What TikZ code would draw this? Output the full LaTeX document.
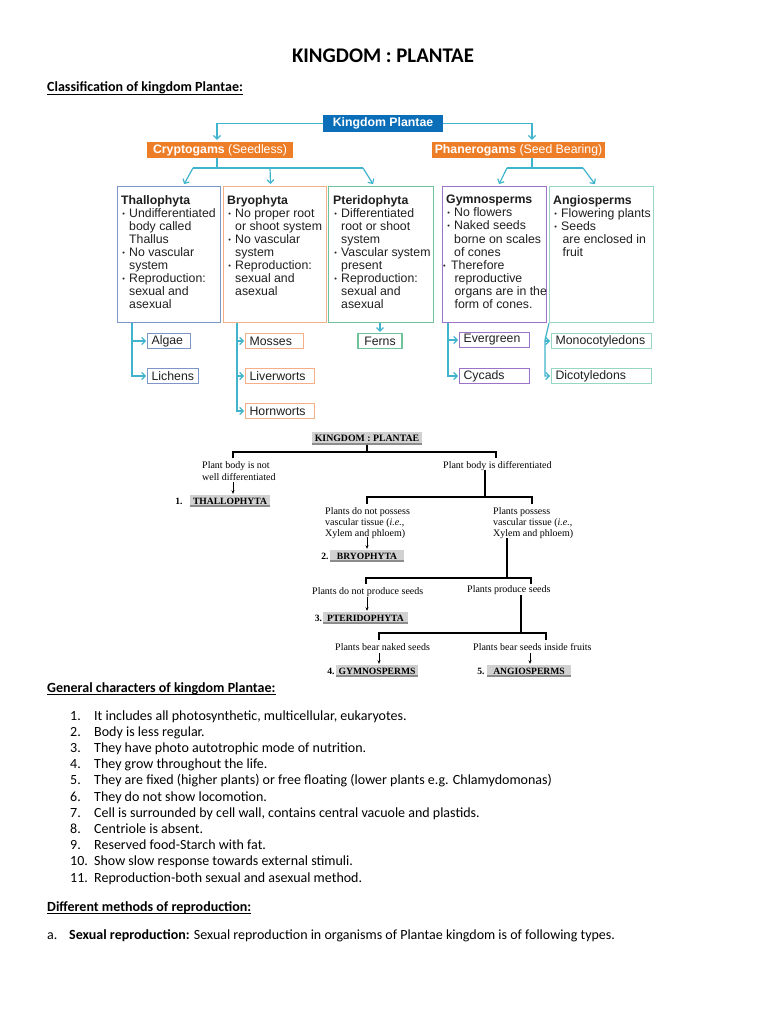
\documentclass[tikz,border=0pt]{standalone}
\usepackage{fontspec}
\usepackage{graphicx}
\setmainfont{Carlito}
\newfontfamily\ari{Liberation Sans}
\newfontfamily\tnr{Liberation Serif}
\usetikzlibrary{arrows.meta,calc}
\definecolor{kblue}{RGB}{10,110,185}
\definecolor{korange}{RGB}{238,125,40}
\definecolor{tealc}{RGB}{65,180,205}
\definecolor{cthal}{RGB}{125,150,200}
\definecolor{cbryo}{RGB}{245,175,135}
\definecolor{cpter}{RGB}{110,195,155}
\definecolor{cgymn}{RGB}{155,115,200}
\definecolor{cangi}{RGB}{150,215,195}
\newcommand\bu{\makebox[8pt][l]{\hspace{1.2pt}\raisebox{1pt}{\scalebox{0.6}{•}}}}
\newcommand\hbu{\makebox[5pt][l]{\hspace{-3pt}\raisebox{1pt}{\scalebox{0.6}{•}}}}
\newcommand\cind[1][8pt]{\makebox[#1]{}}
\begin{document}
\begin{tikzpicture}[x=1pt,y=-1pt,
  tl/.style={draw=tealc, line width=1.2pt},
  tla/.style={draw=tealc, line width=1.2pt, -{Straight Barb[length=3.5pt,width=7pt]}, shorten >=1pt},
  hdrbox/.style={text=white, inner sep=0pt, minimum height=16pt, font=\ari\fontsize{12.3}{14}\selectfont},
  bigb/.style={draw, line width=1.2pt, minimum height=136pt, anchor=north west, inner sep=0pt},
  btxt/.style={anchor=north west, inner sep=0pt, align=left, text=black!88, font=\ari\fontsize{12.3}{13.1}\selectfont},
  sbox/.style={draw, line width=1.2pt, anchor=west, inner xsep=4pt, inner ysep=0pt, minimum height=15pt, align=left, text=black!88, font=\ari\fontsize{12.3}{14}\selectfont},
  tree/.style={draw=black, line width=1.1pt},
  tarr/.style={draw=black, line width=0.7pt, -{Stealth[length=3.5pt,width=3pt]}, shorten >=1pt},
  ttxt/.style={anchor=north west, inner sep=0pt, align=left, font=\tnr\fontsize{10}{12}\selectfont},
  tnum/.style={inner sep=0pt, font=\tnr\bfseries\fontsize{9.6}{11}\selectfont},
  shb/.style={font=\tnr\bfseries\fontsize{9.6}{11}\selectfont, inner xsep=0pt, inner ysep=0pt, minimum height=12pt, fill=black!18,
    path picture={\fill[black!45] ([yshift=2pt]path picture bounding box.south west) rectangle (path picture bounding box.south east);}},
  hd/.style={inner sep=0pt, anchor=base west, font=\bfseries\fontsize{14}{16}\selectfont},
  lt/.style={inner sep=0pt, anchor=base west, font=\fontsize{14}{16}\selectfont},
  ul/.style={draw=black, line width=0.9pt}
]
\useasboundingbox (0,0) rectangle (768,1024);
\fill[white] (0,0) rectangle (768,1024);

% ---------- headings ----------
\node[inner sep=0pt, anchor=base, font=\bfseries\fontsize{20.8}{24}\selectfont] (title) at (383,63) {KINGDOM : PLANTAE};
\node[hd] (h1) at (47,92) {Classification of kingdom Plantae:};
\draw[ul] ([yshift=-2pt]h1.base west) -- ([yshift=-2pt]h1.base east);

% ---------- top chart ----------
\node[hdrbox, fill=kblue, minimum width=120pt, minimum height=17pt, font=\ari\bfseries\fontsize{12.3}{14}\selectfont] (kp) at (383,123.5) {Kingdom Plantae};
\node[hdrbox, fill=korange, minimum width=146pt] (cr) at (220,150) {\bfseries Cryptogams\mdseries{} (Seedless)};
\node[hdrbox, fill=korange, minimum width=173pt] (ph) at (518.5,150) {\bfseries Phanerogams\mdseries{} (Seed Bearing)};

\draw[tla] (kp.west) -| ([xshift=-3pt,yshift=1pt]cr.north);
\draw[tla] (kp.east) -| ([xshift=13.5pt,yshift=1pt]ph.north);

\node[bigb, draw=cthal, minimum width=103pt] (thal) at (117,186) {};
\node[bigb, draw=cbryo, minimum width=103pt] (bryo) at (223,186) {};
\node[bigb, draw=cpter, minimum width=105pt] (pter) at (328,186) {};
\node[bigb, draw=cgymn, minimum width=104pt] (gymn) at (442,186) {};
\node[bigb, draw=cangi, minimum width=104pt] (angi) at (549,186) {};

\node[btxt] (thalt) at (121,195) {\textbf{Thallophyta}\\ \bu Undifferentiated\\ \cind body called\\ \cind Thallus\\ \bu No vascular\\ \cind system\\ \bu Reproduction:\\ \cind sexual and\\ \cind asexual};
\node[btxt] (bryot) at (227,195) {\textbf{Bryophyta}\\ \bu No proper root\\ \cind or shoot system\\ \bu No vascular\\ \cind system\\ \bu Reproduction:\\ \cind sexual and\\ \cind asexual};
\node[btxt] (ptert) at (333,195) {\textbf{Pteridophyta}\\ \bu Differentiated\\ \cind root or shoot\\ \cind system\\ \bu Vascular system\\ \cind present\\ \bu Reproduction:\\ \cind sexual and\\ \cind asexual};
\node[btxt] (gymnt) at (446,195) {\textbf{Gymnosperms}\\ \bu No flowers\\ \bu Naked seeds\\ \cind borne on scales\\ \cind of cones\\ \hbu Therefore\\ \cind[5pt] reproductive\\ \cind[5pt] organs are in the\\ \cind[5pt] form of cones.};
\node[btxt] (angit) at (553,195) {\textbf{Angiosperms}\\ \bu Flowering plants\\ \bu Seeds\\ \cind[6pt] are enclosed in\\ \cind[6pt] fruit};

% cryptogam branches
\draw[tl] ([xshift=-3pt]cr.south) -- ++(0,10) coordinate (cj);
\coordinate (cL) at (193,168);
\coordinate (cR) at (363,168);
\draw[tl] (cL) -- (cR);
\draw[tla] (cL) -- ([xshift=14.5pt,yshift=1pt]thal.north);
\draw[tla] (cj -| 270,0) -- ([xshift=-4.5pt,yshift=1pt]bryo.north);
\draw[tla] (cR) -- ([xshift=-7.5pt,yshift=1pt]pter.north);
% phanerogam branches
\draw[tl] ([xshift=13.5pt]ph.south) -- ++(0,10) coordinate (pj);
\coordinate (pL) at (507,168);
\coordinate (pR) at (583,168);
\draw[tl] (pL) -- (pR);
\draw[tla] (pL) -- ([xshift=4pt,yshift=1pt]gymn.north);
\draw[tla] (pR) -- ([xshift=-6pt,yshift=1pt]angi.north);

% small boxes
\node[sbox, draw=cthal, text width=35pt] (algae) at (147,341) {Algae};
\node[sbox, draw=cthal, text width=43pt] (lichens) at (147,376) {Lichens};
\node[sbox, draw=cbryo, text width=50pt] (mosses) at (245,341) {Mosses};
\node[sbox, draw=cbryo, text width=61pt] (liver) at (245,376) {Liverworts};
\node[sbox, draw=cbryo, text width=61pt] (horn) at (245,411) {Hornworts};
\node[sbox, draw=cpter, text width=36pt, anchor=center, align=center] (ferns) at (380,341) {Ferns};
\node[sbox, draw=cgymn, text width=62pt] (ever) at (459,340) {Evergreen};
\node[sbox, draw=cgymn, text width=62pt] (cycad) at (459,376) {Cycads};
\node[sbox, draw=cangi, text width=92pt] (mono) at (551,341) {Monocotyledons};
\node[sbox, draw=cangi, text width=92pt] (dico) at (551,376) {Dicotyledons};

\coordinate (tx) at ([xshift=15pt]thal.south west);
\draw[tla] (tx) |- (lichens.west);
\draw[tla] (tx |- algae.west) -- (algae.west);
\coordinate (bx) at ([xshift=14pt]bryo.south west);
\draw[tla] (bx) |- (horn.west);
\draw[tla] (bx |- mosses.west) -- (mosses.west);
\draw[tla] (bx |- liver.west) -- (liver.west);
\draw[tla] (pter.south -| ferns.north) -- (ferns.north);
\coordinate (gx) at ([xshift=6pt]gymn.south west);
\draw[tla] (gx) |- (cycad.west);
\draw[tla] (gx |- ever.west) -- (ever.west);
\coordinate (ax) at (angi.south west);
\coordinate (ay) at ($(ax)+(-4,17)$);
\draw[tla] (ax) -- (ay) |- (dico.west);
\draw[tla] (ay |- mono.west) -- (mono.west);

% ---------- lower tree ----------
\node[shb, minimum width=110pt, font=\tnr\bfseries\fontsize{9.8}{11}\selectfont, minimum height=13pt] (kp2) at (367,438.5) {KINGDOM : PLANTAE};
\node[ttxt] (pbn) at (202,461) {Plant body is not\\well differentiated};
\node[ttxt] (pbd) at (443,461) {Plant body is differentiated};
\node[tnum] (n1) at (179,501) {1.};
\node[shb, minimum width=80pt] (thb) at (230,501) {THALLOPHYTA};
\node[ttxt, font=\tnr\fontsize{10}{11}\selectfont] (pnv) at (325,507) {Plants do not possess\\vascular tissue (\textit{i.e.},\\Xylem and phloem)};
\node[ttxt, font=\tnr\fontsize{10}{11}\selectfont] (pv) at (493,507) {Plants possess\\vascular tissue (\textit{i.e.},\\Xylem and phloem)};
\node[tnum] (n2) at (325,556) {2.};
\node[shb, minimum width=74pt] (bryb) at (367,556) {BRYOPHYTA};
\node[ttxt] (pnps) at (312,587) {Plants do not produce seeds};
\node[ttxt] (pps) at (467,585) {Plants produce seeds};
\node[tnum] (n3) at (318.5,618) {3.};
\node[shb, minimum width=85pt] (pteb) at (365.5,618) {PTERIDOPHYTA};
\node[ttxt] (pbns) at (335,643) {Plants bear naked seeds};
\node[ttxt] (pbsf) at (473,643) {Plants bear seeds inside fruits};
\node[tnum] (n4) at (331,671) {4.};
\node[shb, minimum width=82pt] (gymb) at (377,671) {GYMNOSPERMS};
\node[tnum] (n5) at (481,671) {5.};
\node[shb, minimum width=84pt] (angb) at (529,671) {ANGIOSPERMS};

\coordinate (b1l) at (233,452); \coordinate (b1r) at (496,452);
\coordinate (t1l) at (233,458); \coordinate (t1r) at (496,458);
\draw[tree] (kp2.south) -- (kp2.south |- b1l);
\draw[tree] (t1l) -- (b1l) -- (b1r) -- (t1r);
\coordinate (a1) at (233,482);
\draw[tarr] (a1) -- (a1 |- thb.north);

\coordinate (v2) at (485,470);
\coordinate (b2l) at (367,497); \coordinate (b2r) at (532,497);
\coordinate (t2l) at (367,504); \coordinate (t2r) at (532,504);
\draw[tree] (v2) -- (v2 |- b2l);
\draw[tree] (t2l) -- (b2l) -- (b2r) -- (t2r);
\coordinate (a2) at (367,537);
\draw[tarr] (a2) -- (a2 |- bryb.north);

\coordinate (v3) at (507,538);
\coordinate (b3l) at (366,578); \coordinate (b3r) at (531,578);
\coordinate (t3l) at (366,584); \coordinate (t3r) at (531,584);
\draw[tree] (v3) -- (v3 |- b3l);
\draw[tree] (t3l) -- (b3l) -- (b3r) -- (t3r);
\coordinate (a3) at (367,597);
\draw[tarr] (a3) -- (a3 |- pteb.north);

\coordinate (v4) at (521,595);
\coordinate (b4l) at (379,633); \coordinate (b4r) at (546,633);
\coordinate (t4l) at (379,640); \coordinate (t4r) at (546,640);
\draw[tree] (v4) -- (v4 |- b4l);
\draw[tree] (t4l) -- (b4l) -- (b4r) -- (t4r);
\coordinate (a4) at (379,653);
\draw[tarr] (a4) -- (a4 |- gymb.north);
\coordinate (a5) at (530,653);
\draw[tarr] (a5) -- (a5 |- angb.north);

% ---------- general characters ----------
\node[hd] (h2) at (47,692) {General characters of kingdom Plantae:};
\draw[ul] ([yshift=-2pt]h2.base west) -- ([yshift=-2pt]h2.base east);
\foreach \t [count=\i] in {
  {It includes all photosynthetic, multicellular, eukaryotes.},
  {Body is less regular.},
  {They have photo autotrophic mode of nutrition.},
  {They grow throughout the life.},
  {They are fixed (higher plants) or free floating (lower plants e.g. Chlamydomonas)},
  {They do not show locomotion.},
  {Cell is surrounded by cell wall, contains central vacuole and plastids.},
  {Centriole is absent.},
  {Reserved food-Starch with fat.},
  {Show slow response towards external stimuli.},
  {Reproduction-both sexual and asexual method.}} {
  \node[lt] (n\i) at (70,{720+16.2*(\i-1)}) {\i.};
  \node[lt] (item\i) at (94,{720+16.2*(\i-1)}) {\t};
}

\node[hd] (h3) at (47,911) {Different methods of reproduction:};
\draw[ul] ([yshift=-2pt]h3.base west) -- ([yshift=-2pt]h3.base east);
\node[lt] (sa) at (47,939) {a.};
\node[lt] (sb) at (69,939) {\textbf{Sexual reproduction:} Sexual reproduction in organisms of Plantae kingdom is of following types.};
\end{tikzpicture}
\end{document}
